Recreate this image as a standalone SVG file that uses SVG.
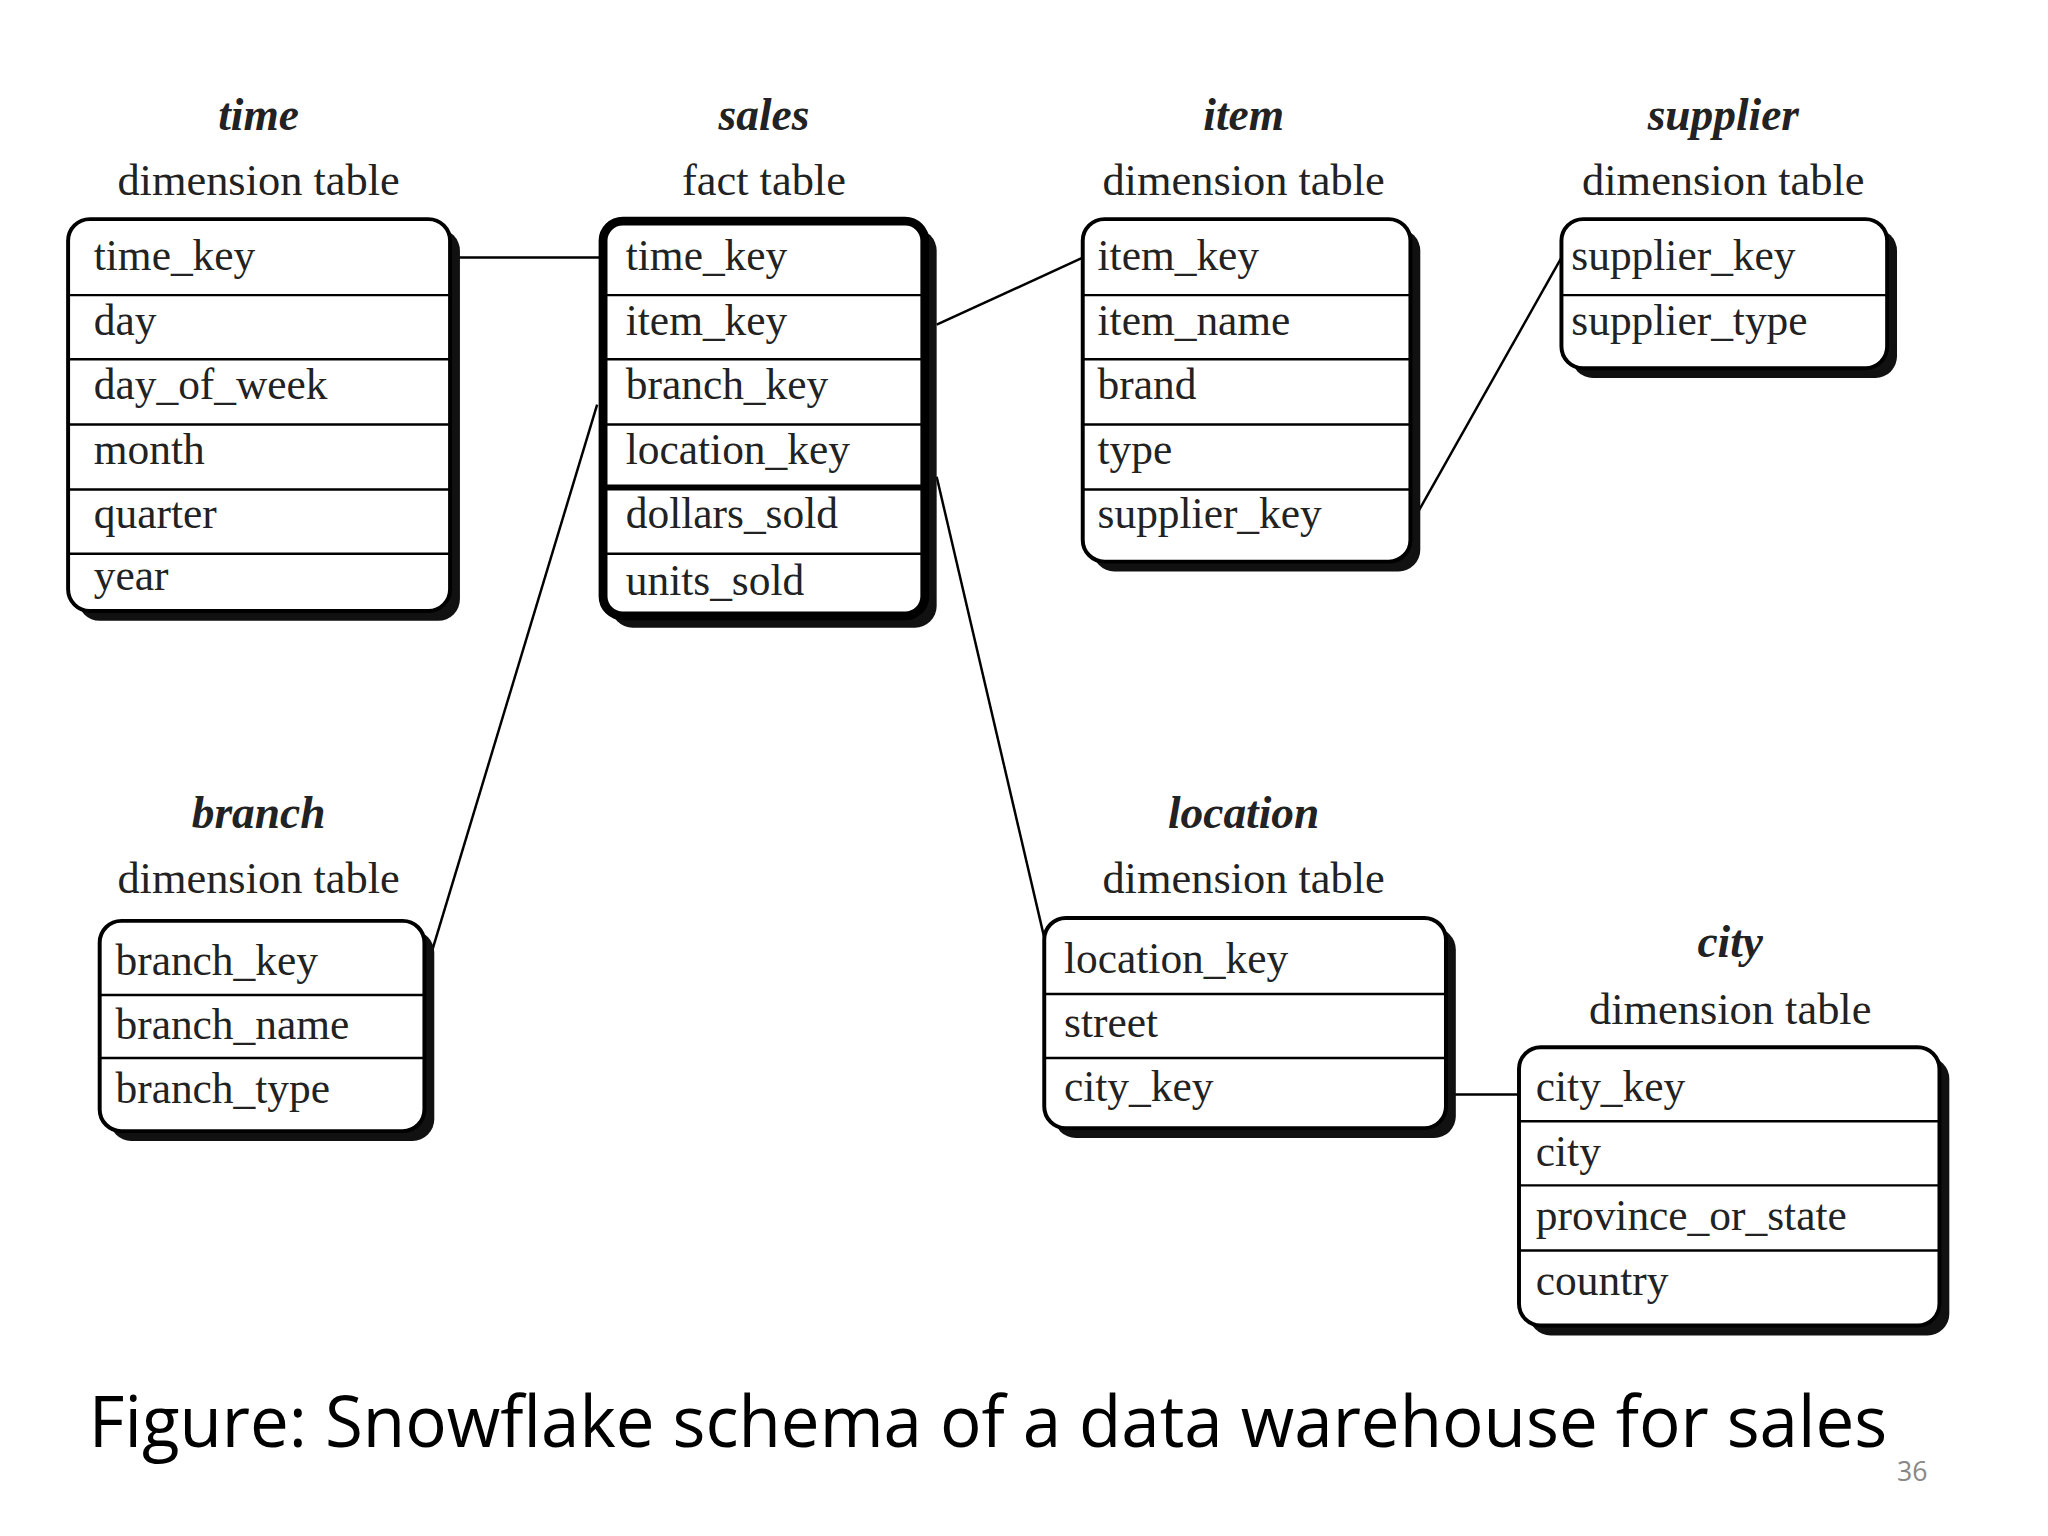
<svg xmlns="http://www.w3.org/2000/svg" width="2048" height="1536" viewBox="0 0 2048 1536">
<style>
.t{font-family:"Liberation Serif",serif;font-size:44px;fill:#222}
.h{font-family:"Liberation Serif",serif;font-size:46px;font-style:italic;font-weight:bold;fill:#222;text-anchor:middle}
.s{font-family:"Liberation Serif",serif;font-size:45px;fill:#222;text-anchor:middle}
.box{fill:#fff;stroke:#000;stroke-width:4}
.sh{fill:#111}
.ln{stroke:#000;stroke-width:2.5}
.c{stroke:#000;stroke-width:2.5;fill:none}
</style>
<rect width="2048" height="1536" fill="#fff"/>
<g transform="scale(0.987)">
<g id="connectors">
<line class="c" x1="456" y1="261" x2="609" y2="261"/>
<line class="c" x1="949" y1="329" x2="1097" y2="261"/>
<line class="c" x1="1436" y1="520" x2="1582" y2="261"/>
<line class="c" x1="605" y1="410" x2="437" y2="966"/>
<line class="c" x1="949" y1="483" x2="1058" y2="950"/>
<line class="c" x1="1465" y1="1109" x2="1539" y2="1109"/>
</g>
<g id="time">
<text class="h" x="262" y="132">time</text><text class="s" x="262" y="198">dimension table</text>
<rect class="sh" x="79" y="232" width="387" height="397" rx="22"/>
<rect class="box" x="69" y="222" width="387" height="397" rx="22"/>
<path class="ln" d="M69 299H456M69 364H456M69 430H456M69 496H456M69 561H456"/>
<text class="t" x="95" y="274">time_key</text><text class="t" x="95" y="339">day</text><text class="t" x="95" y="404">day_of_week</text><text class="t" x="95" y="470">month</text><text class="t" x="95" y="535">quarter</text><text class="t" x="95" y="598">year</text>
</g>
<g id="sales">
<text class="h" x="774" y="132">sales</text><text class="s" x="774" y="198">fact table</text>
<rect class="sh" x="619" y="232" width="330" height="404" rx="22"/>
<rect x="611" y="224" width="326" height="400" rx="20" fill="#fff" stroke="#000" stroke-width="9"/>
<path class="ln" d="M609 299H939M609 364H939M609 430H939M609 561H939"/>
<path d="M609 494H939" stroke="#000" stroke-width="6"/>
<text class="t" x="634" y="274">time_key</text><text class="t" x="634" y="339">item_key</text><text class="t" x="634" y="404">branch_key</text><text class="t" x="634" y="470">location_key</text><text class="t" x="634" y="535">dollars_sold</text><text class="t" x="634" y="603">units_sold</text>
</g>
<g id="item">
<text class="h" x="1260" y="132">item</text><text class="s" x="1260" y="198">dimension table</text>
<rect class="sh" x="1107" y="232" width="332" height="347" rx="22"/>
<rect class="box" x="1097" y="222" width="332" height="347" rx="22"/>
<path class="ln" d="M1097 299H1429M1097 364H1429M1097 430H1429M1097 496H1429"/>
<text class="t" x="1112" y="274">item_key</text><text class="t" x="1112" y="339">item_name</text><text class="t" x="1112" y="404">brand</text><text class="t" x="1112" y="470">type</text><text class="t" x="1112" y="535">supplier_key</text>
</g>
<g id="supplier">
<text class="h" x="1746" y="132">supplier</text><text class="s" x="1746" y="198">dimension table</text>
<rect class="sh" x="1592" y="232" width="330" height="151" rx="22"/>
<rect class="box" x="1582" y="222" width="330" height="151" rx="22"/>
<path class="ln" d="M1582 299H1912"/>
<text class="t" x="1592" y="274">supplier_key</text><text class="t" x="1592" y="339">supplier_type</text>
</g>
<g id="branch">
<text class="h" x="262" y="839">branch</text><text class="s" x="262" y="905">dimension table</text>
<rect class="sh" x="111" y="943" width="329" height="213" rx="22"/>
<rect class="box" x="101" y="933" width="329" height="213" rx="22"/>
<path class="ln" d="M101 1008H430M101 1072H430"/>
<text class="t" x="117" y="988">branch_key</text><text class="t" x="117" y="1053">branch_name</text><text class="t" x="117" y="1118">branch_type</text>
</g>
<g id="location">
<text class="h" x="1260" y="839">location</text><text class="s" x="1260" y="905">dimension table</text>
<rect class="sh" x="1068" y="940" width="407" height="213" rx="22"/>
<rect class="box" x="1058" y="930" width="407" height="213" rx="22"/>
<path class="ln" d="M1058 1007H1465M1058 1072H1465"/>
<text class="t" x="1078" y="986">location_key</text><text class="t" x="1078" y="1051">street</text><text class="t" x="1078" y="1116">city_key</text>
</g>
<g id="city">
<text class="h" x="1753" y="970">city</text><text class="s" x="1753" y="1037">dimension table</text>
<rect class="sh" x="1549" y="1071" width="426" height="282" rx="22"/>
<rect class="box" x="1539" y="1061" width="426" height="282" rx="22"/>
<path class="ln" d="M1539 1136H1965M1539 1201H1965M1539 1267H1965"/>
<text class="t" x="1556" y="1116">city_key</text><text class="t" x="1556" y="1181">city</text><text class="t" x="1556" y="1246">province_or_state</text><text class="t" x="1556" y="1312">country</text>
</g>
<text x="90" y="1466" font-family="'Open Sans',sans-serif" font-size="73" fill="#000" textLength="1822" lengthAdjust="spacingAndGlyphs">Figure: Snowflake schema of a data warehouse for sales</text>
<text x="1922" y="1500" font-family="'Open Sans',sans-serif" font-size="27" fill="#888">36</text>
</g>
</svg>
